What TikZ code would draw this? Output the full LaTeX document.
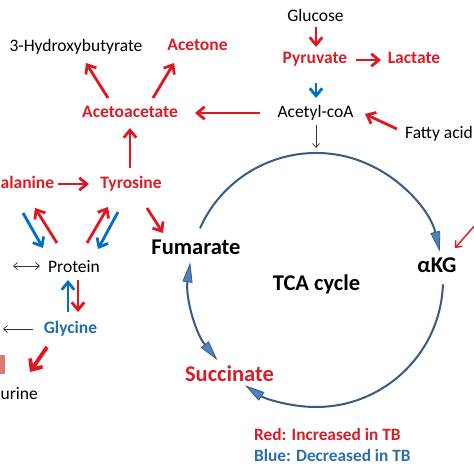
\documentclass[tikz,border=0pt]{standalone}
\usepackage{fontspec}
\setmainfont{Carlito}
\usetikzlibrary{arrows.meta}
\definecolor{txtred}{RGB}{215,30,40}
\definecolor{arrred}{RGB}{225,22,32}
\definecolor{arrblue}{RGB}{0,112,192}
\definecolor{txtblue}{RGB}{30,110,180}
\definecolor{legblue}{RGB}{45,110,172}
\definecolor{tcaline}{RGB}{55,90,135}
\definecolor{tcafill}{RGB}{80,130,190}
\definecolor{salmon}{RGB}{215,125,115}
\tikzset{
  lbl/.style={inner sep=0pt, anchor=base, text=black, font=\fontsize{17.5}{20}\selectfont},
  redlbl/.style={lbl, text=txtred, font=\fontsize{17.5}{20}\selectfont\bfseries},
  bluelbl/.style={lbl, text=txtblue, font=\fontsize{17.5}{20}\selectfont\bfseries},
  leglbl/.style={lbl, anchor=base west, font=\fontsize{17.3}{20}\selectfont\bfseries},
  biglbl/.style={lbl, font=\fontsize{22.5}{26}\selectfont\bfseries},
  bigred/.style={biglbl, text=txtred},
  redarr/.style={draw=arrred, line width=2.8pt, -{Straight Barb[length=7.5pt,width=12.5pt]}},
  bigredarr/.style={draw=arrred, line width=3.8pt, -{Straight Barb[length=8.5pt,width=15pt]}},
  bluearr/.style={draw=arrblue, line width=2.8pt, -{Straight Barb[length=7.5pt,width=12.5pt]}},
  thinarr/.style={draw=black!80, line width=0.7pt, -{Straight Barb[length=4pt,width=7pt]}},
  thinboth/.style={draw=black!80, line width=0.7pt, {Straight Barb[length=4pt,width=7pt]}-{Straight Barb[length=4pt,width=7pt]}},
  thinred/.style={draw=arrred, line width=1.4pt, -{Straight Barb[length=5pt,width=9pt]}},
  tcaarc/.style={draw=tcaline, line width=2pt},
  tcatip/.tip={Triangle[length=20pt,width=10pt,fill=tcafill,line width=0.8pt]}
}
\begin{document}
\begin{tikzpicture}[x=1pt,y=-1pt]
\clip (0,0) rectangle (474,474);
\fill[white] (0,0) rectangle (474,474);

% labels
\node[lbl] (hb) at (76,51) {3-Hydroxybutyrate};
\node[redlbl] (acetone) at (197.5,50) {Acetone};
\node[redlbl] (acac) at (130,117) {Acetoacetate};
\node[redlbl, anchor=base west] (phe) at (0.5,188) {alanine};
\node[redlbl] (tyr) at (131,188) {Tyrosine};
\node[lbl] (glc) at (315.5,21) {Glucose};
\node[redlbl] (pyr) at (315,63) {Pyruvate};
\node[redlbl] (lac) at (414,63) {Lactate};
\node[lbl] (acoa) at (315.5,117) {Acetyl-coA};
\node[lbl, anchor=base west] (fa) at (405,138) {Fatty acid};
\node[biglbl] (fum) at (196,254) {Fumarate};
\node[biglbl] (tca) at (316.5,290) {TCA cycle};
\node[biglbl] (akg) at (437,272) {αKG};
\node[bigred] (suc) at (229.5,381) {Succinate};
\node[lbl] (prot) at (74,272) {Protein};
\node[bluelbl] (gly) at (70.5,333) {Glycine};
\node[lbl, anchor=base east] (urine) at (38,399) {urine};
\node[leglbl, text=txtred] (leg1) at (254,440) {Red: Increased in TB};
\node[leglbl, text=legblue] (leg2) at (254,461) {Blue: Decreased in TB};

% partial box at left edge
\fill[salmon] (-20,355) rectangle (5,374);

% connector end points
\coordinate (c1a) at (108,98);  \coordinate (c1b) at (86,63);
\coordinate (c2a) at (153,98);  \coordinate (c2b) at (174,63);
\coordinate (c3a) at (260,113); \coordinate (c3b) at (195,113);
\coordinate (c4a) at (130,168); \coordinate (c4b) at (130,128);
\coordinate (c5a) at (58,184);  \coordinate (c5b) at (89,184);
\coordinate (c6a) at (316,27);  \coordinate (c6b) at (316,47);
\coordinate (c7a) at (356,60);  \coordinate (c7b) at (381,60);
\coordinate (c8a) at (316,83);  \coordinate (c8b) at (316,98);
\coordinate (c9a) at (397,129); \coordinate (c9b) at (365,114);
\coordinate (c10a) at (316,125); \coordinate (c10b) at (316,148);
\coordinate (c11a) at (23,213); \coordinate (c11b) at (43,248);
\coordinate (c12a) at (57,243); \coordinate (c12b) at (35,208);
\coordinate (c13a) at (87,243); \coordinate (c13b) at (108,207);
\coordinate (c14a) at (118,212); \coordinate (c14b) at (98,249);
\coordinate (c15a) at (147,208); \coordinate (c15b) at (163,233);
\coordinate (c16a) at (68,312); \coordinate (c16b) at (68,280);
\coordinate (c17a) at (78,280); \coordinate (c17b) at (78,312);
\coordinate (c18a) at (47,347); \coordinate (c18b) at (30,372);
\coordinate (c19a) at (33,329); \coordinate (c19b) at (3,329);
\coordinate (c20a) at (13,266); \coordinate (c20b) at (40,266);
\coordinate (c21a) at (476,224); \coordinate (c21b) at (455,248);

\draw[redarr] (c1a) -- (c1b);
\draw[redarr] (c2a) -- (c2b);
\draw[redarr] (c3a) -- (c3b);
\draw[redarr] (c4a) -- (c4b);
\draw[redarr] (c5a) -- (c5b);
\draw[redarr] (c6a) -- (c6b);
\draw[redarr] (c7a) -- (c7b);
\draw[bluearr] (c8a) -- (c8b);
\draw[redarr] (c9a) -- (c9b);
\draw[thinarr] (c10a) -- (c10b);
\draw[bluearr] (c11a) -- (c11b);
\draw[redarr] (c12a) -- (c12b);
\draw[redarr] (c13a) -- (c13b);
\draw[bluearr] (c14a) -- (c14b);
\draw[redarr] (c15a) -- (c15b);
\draw[bluearr] (c16a) -- (c16b);
\draw[redarr] (c17a) -- (c17b);
\draw[bigredarr] (c18a) -- (c18b);
\draw[thinarr] (c19a) -- (c19b);
\draw[thinboth] (c20a) -- (c20b);
\draw[thinred] (c21a) -- (c21b);

% TCA cycle
\draw[tcaarc, -{tcatip}] (316,280) ++(204:127) arc[start angle=204, end angle=347, radius=127];
\draw[tcaarc, -{tcatip}] (316,280) ++(2:127) arc[start angle=2, end angle=124, radius=127];
\draw[tcaarc, {tcatip}-{tcatip}] (316,280) ++(141:127) arc[start angle=141, end angle=188, radius=127];
\end{tikzpicture}
\end{document}
